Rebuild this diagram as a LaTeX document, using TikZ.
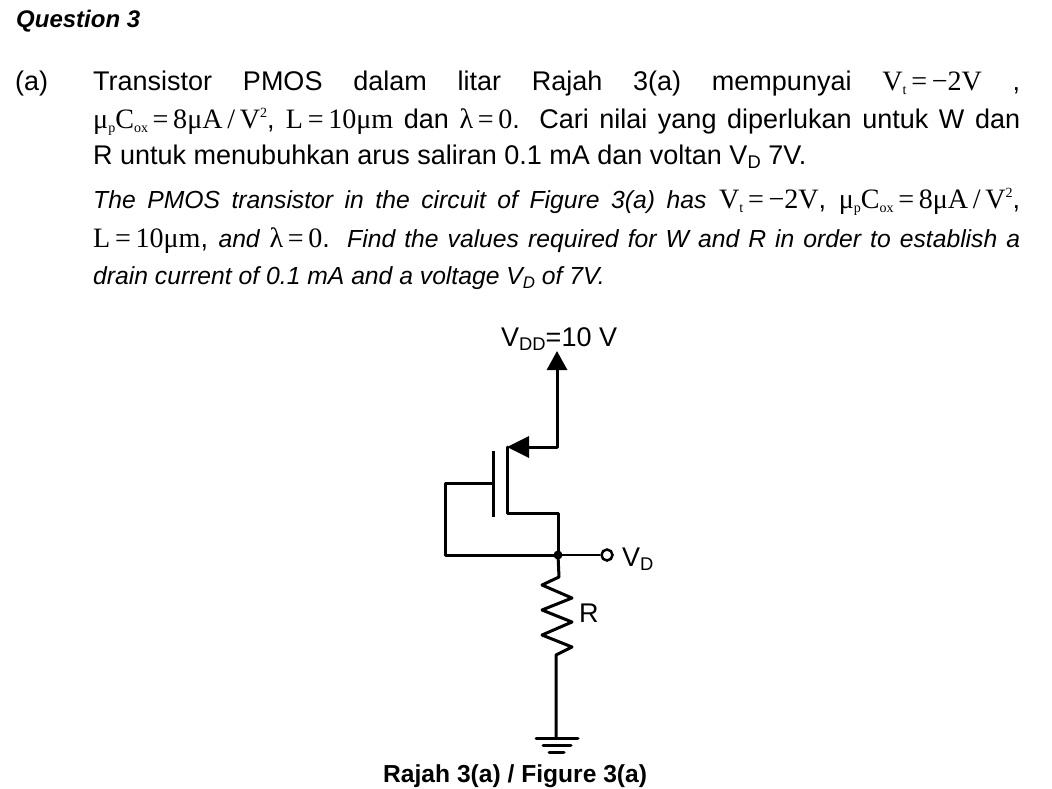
\documentclass[tikz,border=0pt]{standalone}
\usepackage{fontspec}
\setmainfont{Liberation Sans}
\newfontfamily\serifmath[Scale=1.04]{Liberation Serif}
\usetikzlibrary{positioning, calc, arrows.meta}

\newcommand{\lowsub}[1]{\raisebox{-0.18em}{\scalebox{0.68}{#1}}}
\newcommand{\mathsub}[1]{\raisebox{-0.16em}{\scalebox{0.5}{#1}}}
\newcommand{\Vt}{{\serifmath V\mathsub{t}\,=\,\textminus 2V}}
\newcommand{\mucox}{{\serifmath μ\mathsub{p}C\mathsub{ox}\,=\,8μA\,/\,V\raisebox{0.36em}{\scalebox{0.5}{2}}}}
\newcommand{\Lten}{{\serifmath L\,=\,10μm}}
\newcommand{\lamzero}{{\serifmath λ\,=\,0}}
\newcommand{\jline}[1]{\makebox[927pt][s]{#1}}
\newcommand{\itfont}{\fontsize{24.7}{28}\selectfont\itshape}

\tikzset{
    txt/.style={anchor=base west, inner sep=0pt, font=\fontsize{27}{30}\selectfont},
    wire/.style={line width=3pt, line cap=round, line join=round},
    thinwire/.style={line width=2.5pt},
}

\begin{document}
\begin{tikzpicture}[x=1pt, y=-1pt]
    \useasboundingbox (0, 0) rectangle (1052, 788);

    \node[txt, font=\fontsize{24}{26}\selectfont\bfseries\itshape] (question) at (16, 27) {Question 3};
    \node[txt] (parta) at (15, 90) {(a)};

    \node[txt] (lineA) at (93, 90) {\jline{Transistor PMOS dalam litar Rajah 3(a) mempunyai \Vt{} ,}};
    \node[txt] (lineB) at (93, 128) {\jline{\mucox, \Lten{} dan \lamzero. Cari nilai yang diperlukan untuk W dan}};
    \node[txt] (lineC) at (93, 164) {R untuk menubuhkan arus saliran 0.1 mA dan voltan V\lowsub{D} 7V.};

    \node[txt] (lineD) at (93, 208) {\jline{{\itfont The PMOS transistor in the circuit of Figure 3(a) has} \Vt, \mucox,}};
    \node[txt] (lineE) at (93, 247) {\jline{\Lten, {\itfont and} \lamzero. {\itfont Find the values required for W and R in order to establish a}}};
    \node[txt, font=\itfont] (lineF) at (93, 284) {drain current of 0.1 mA and a voltage V\lowsub{D} of 7V.};

    \node[txt] (vddlabel) at (501, 346) {V\lowsub{DD}=10 V};
    \node[txt] (vdlabel) at (622, 566) {V\lowsub{D}};
    \node[txt] (rlabel) at (579, 622) {R};
    \node[txt, font=\fontsize{24.6}{26}\selectfont\bfseries] (caption) at (383, 782) {Rajah 3(a) / Figure 3(a)};

    \coordinate (vdd) at (557, 351);
    \coordinate (source) at (557, 447);
    \coordinate (chtop) at (507, 447);
    \coordinate (chbot) at (507, 513);
    \coordinate (drain) at (558, 513);
    \coordinate (join) at (558, 555);
    \coordinate (gatetop) at (493, 451);
    \coordinate (gatebot) at (493, 517);
    \coordinate (gate) at (493, 483);
    \coordinate (gateleft) at (445, 483);
    \coordinate (feedback) at (445, 555);
    \coordinate (restop) at (559, 577);
    \coordinate (resbot) at (556, 655);
    \coordinate (gnd) at (556, 738);
    \node[draw, circle, line width=2.5pt, fill=white, minimum size=11pt, inner sep=0pt] (vdpin) at (607, 555) {};
    \node[fill, circle, minimum size=9pt, inner sep=0pt] (dot) at (join) {};

    \draw[wire, -{Triangle[length=19pt, width=20pt]}] (source) -- (vdd);
    \draw[wire, -{Triangle[length=22pt, width=21pt]}] (source) -- (chtop);
    \draw[wire] (chtop) -- (chbot) -- (drain) -- (join);
    \draw[wire, line cap=butt] (gatetop) -- (gatebot);
    \draw[wire] (gate) -- (gateleft) -- (feedback) -- (join);
    \draw[thinwire] (join) -- (vdpin);
    \draw[wire] (join) -- (restop) -- (542, 585) -- (572, 598) -- (542, 610) -- (572, 622) -- (542, 635) -- (572, 647) -- (resbot) -- (gnd);

    \draw[wire] (536, 738) -- (578, 738);
    \draw[wire] (543, 745) -- (571, 745);
    \draw[wire] (549, 752) -- (564, 752);

\end{tikzpicture}
\end{document}
